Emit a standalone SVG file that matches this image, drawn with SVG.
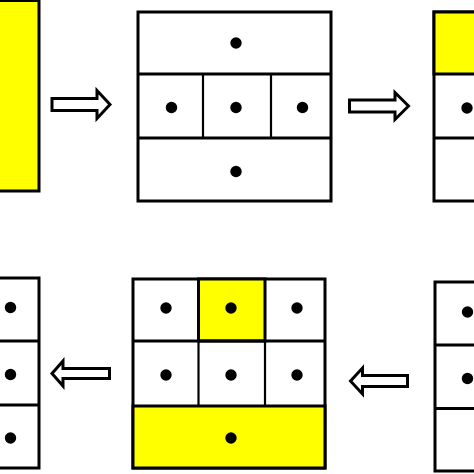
<svg xmlns="http://www.w3.org/2000/svg" width="474" height="474" viewBox="0 0 474 474">
<style>
.box{fill:#fff;stroke:#000;stroke-width:3}
.yel{fill:#ffff00;stroke:#000;stroke-width:3}
.h{stroke:#000;stroke-width:3}
.v{stroke:#000;stroke-width:2.2}
.dot{fill:#000}
.arrow{fill:#fff;stroke:#000;stroke-width:3;stroke-linejoin:miter}
</style>
<rect width="474" height="474" fill="#fff"/>
<g id="block-top-left">
<rect class="yel" x="-10" y="0.5" width="49" height="190.5"/>
</g>
<g id="block-top-middle">
<rect class="box" x="138" y="12" width="193" height="189"/>
<line class="h" x1="138" y1="74" x2="331" y2="74"/>
<line class="h" x1="138" y1="138" x2="331" y2="138"/>
<line class="v" x1="203" y1="74" x2="203" y2="138"/>
<line class="v" x1="271" y1="74" x2="271" y2="138"/>
<circle class="dot" cx="236" cy="43" r="5.7"/>
<circle class="dot" cx="171.5" cy="107.5" r="5.7"/>
<circle class="dot" cx="236" cy="107.5" r="5.7"/>
<circle class="dot" cx="302.5" cy="107.5" r="5.7"/>
<circle class="dot" cx="236" cy="171.5" r="5.7"/>
</g>
<g id="block-top-right">
<rect class="box" x="434" y="12" width="60" height="189"/>
<rect class="yel" x="434" y="12" width="60" height="62"/>
<line class="h" x1="434" y1="138" x2="494" y2="138"/>
<circle class="dot" cx="467" cy="108" r="5.7"/>
</g>
<g id="block-bottom-right">
<rect class="box" x="435" y="282" width="60" height="189"/>
<line class="h" x1="435" y1="345" x2="495" y2="345"/>
<line class="h" x1="435" y1="408.5" x2="495" y2="408.5"/>
<circle class="dot" cx="467.5" cy="312" r="5.7"/>
<circle class="dot" cx="467.5" cy="378.5" r="5.7"/>
</g>
<g id="block-bottom-middle">
<rect class="box" x="133" y="279" width="192" height="189"/>
<rect class="yel" x="198.5" y="279" width="66.5" height="62"/>
<rect class="yel" x="133" y="406" width="192" height="62"/>
<line class="h" x1="133" y1="341" x2="325" y2="341"/>
<line class="v" x1="198.5" y1="341" x2="198.5" y2="406"/>
<line class="v" x1="265" y1="341" x2="265" y2="406"/>
<circle class="dot" cx="166" cy="308" r="5.7"/>
<circle class="dot" cx="231" cy="308" r="5.7"/>
<circle class="dot" cx="297" cy="308" r="5.7"/>
<circle class="dot" cx="166" cy="375" r="5.7"/>
<circle class="dot" cx="231" cy="375" r="5.7"/>
<circle class="dot" cx="297" cy="375" r="5.7"/>
<circle class="dot" cx="231" cy="438" r="5.7"/>
</g>
<g id="block-bottom-left">
<rect class="box" x="-10" y="278" width="49" height="190"/>
<line class="h" x1="-10" y1="341" x2="39" y2="341"/>
<line class="h" x1="-10" y1="405" x2="39" y2="405"/>
<circle class="dot" cx="10.5" cy="307.5" r="5.7"/>
<circle class="dot" cx="10.5" cy="374.5" r="5.7"/>
<circle class="dot" cx="10.5" cy="438" r="5.7"/>
</g>
<g id="connectors">
<polygon class="arrow" points="52,98.5 97,98.5 97,90.5 110,104.5 97,118.5 97,110.5 52,110.5"/>
<polygon class="arrow" points="349.5,100 395,100 395,92.5 408.5,106 395,119.5 395,112 349.5,112"/>
<polygon class="arrow" points="52,373.5 63,361 63,368.5 109.5,368.5 109.5,378.5 63,378.5 63,386"/>
<polygon class="arrow" points="350.5,381 362.5,368 362.5,375.5 407.5,375.5 407.5,386.5 362.5,386.5 362.5,394"/>
</g>
</svg>
